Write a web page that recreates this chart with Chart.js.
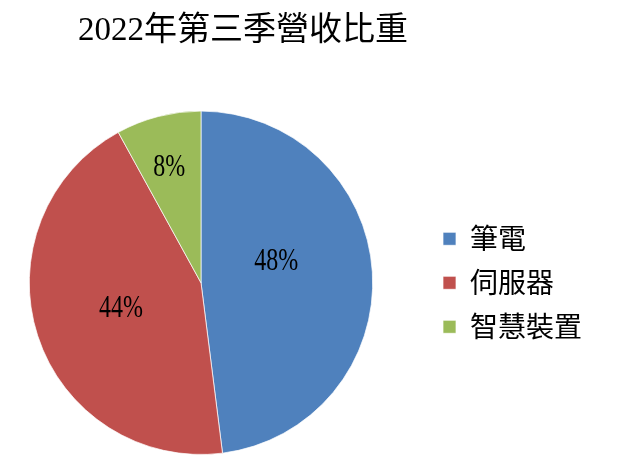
<!DOCTYPE html>
<html>
<head>
<meta charset="utf-8">
<script src="https://cdn.jsdelivr.net/npm/chart.js@4.4.0/dist/chart.umd.min.js"></script>
<style>
  html, body { margin: 0; padding: 0; background: #fff; }
  #wrap { width: 624px; height: 467px; }
</style>
</head>
<body>
<div id="wrap"><canvas id="pie"></canvas></div>
<script>
// Data
const chartTitle = "2022年第三季營收比重";
const categories = ["筆電", "伺服器", "智慧裝置"];
const shares = [48, 44, 8];
const sliceColors = ["#4F81BD", "#C0504D", "#9BBB59"];

// Where each percent label sits inside its slice (fraction of radius, angle nudge in turns)
const labelSpots = [
  { r: 0.455, turn: -0.033 },
  { r: 0.49, turn: 0 },
  { r: 0.695, turn: -0.003 }
];

// Draws "48%" etc. on top of the slices, slightly tall like the original font
const percentLabels = {
  id: "percentLabels",
  afterDatasetsDraw(chart) {
    const ctx = chart.ctx;
    const meta = chart.getDatasetMeta(0);
    const data = chart.data.datasets[0].data;
    const total = data.reduce((a, b) => a + b, 0);
    meta.data.forEach((arc, i) => {
      const p = arc.getProps(["x", "y", "startAngle", "endAngle", "outerRadius"], true);
      const spot = labelSpots[i] || { r: 0.5, turn: 0 };
      const mid = (p.startAngle + p.endAngle) / 2 + spot.turn * Math.PI * 2;
      const r = p.outerRadius * spot.r;
      const lx = p.x + Math.cos(mid) * r;
      const ly = p.y + Math.sin(mid) * r;
      ctx.save();
      ctx.translate(lx, ly);
      ctx.scale(1, 1.3);
      ctx.font = "24px 'Liberation Serif', 'DejaVu Serif', serif";
      ctx.fillStyle = "#000";
      ctx.textAlign = "center";
      ctx.textBaseline = "middle";
      ctx.fillText(Math.round(data[i] / total * 100) + "%", 0, 0);
      ctx.restore();
    });
  }
};

// Legend sits further right of the pie than Chart.js puts it by default,
// and its text is allowed to run past the narrow box it was given
const legendNudge = {
  id: "legendNudge",
  afterLayout(chart) {
    chart.legend.left += 25;
    chart.legend.right = chart.width;
  }
};

new Chart(document.getElementById("pie"), {
  type: "pie",
  data: {
    labels: categories,
    datasets: [{
      data: shares,
      backgroundColor: sliceColors,
      borderColor: "rgba(255,255,255,0.7)",
      borderWidth: 1,
      hoverOffset: 0
    }]
  },
  options: {
    responsive: true,
    maintainAspectRatio: false,
    animation: false,
    layout: {
      padding: { left: 0, right: 138, top: 0, bottom: 12 }
    },
    plugins: {
      title: {
        display: true,
        text: chartTitle,
        color: "#000",
        font: { family: "'Liberation Serif', 'Noto Sans CJK TC'", size: 33, weight: "normal" },
        padding: { top: 12, bottom: 59 }
      },
      legend: {
        display: true,
        position: "right",
        fullSize: false,
        maxWidth: 84,
        labels: {
          color: "#000",
          boxWidth: 13,
          boxHeight: 13,
          padding: 16,
          font: { family: "'Noto Sans CJK TC'", size: 28 }
        }
      },
      tooltip: { enabled: false }
    }
  },
  plugins: [percentLabels, legendNudge]
});
</script>
</body>
</html>
